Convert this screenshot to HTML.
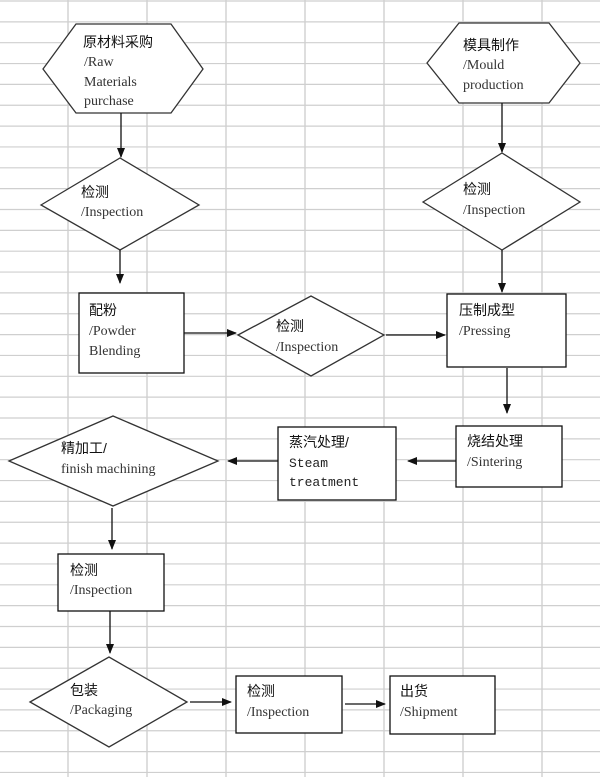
<!DOCTYPE html>
<html><head><meta charset="utf-8"><style>
html,body{margin:0;padding:0;background:#fff}
svg{display:block}
text{font-family:"Liberation Serif","Noto Sans CJK SC",serif;font-size:14px;fill:#222}
.cn{font-family:"Liberation Sans","Noto Sans CJK SC",sans-serif;font-size:14px;fill:#111}
.en{fill:#333}
.mono{font-family:"Liberation Mono","Noto Sans CJK SC",monospace;font-size:13px;fill:#222}
.s{fill:#fff;stroke:#333;stroke-width:1.3}
.r{fill:#fff;stroke:#111;stroke-width:1.3}
.a{stroke:#111;stroke-width:1.3;fill:none;marker-end:url(#ah)}
</style></head><body>
<svg width="600" height="777" viewBox="0 0 600 777" xmlns="http://www.w3.org/2000/svg">
<defs><marker id="ah" markerWidth="10" markerHeight="8" refX="9" refY="4" orient="auto" markerUnits="userSpaceOnUse"><path d="M0,0 L10,4 L0,8 z" fill="#111"/></marker></defs>
<g stroke="#c8c8c8" stroke-width="1.2">
<line x1="68" y1="0" x2="68" y2="777"/><line x1="147" y1="0" x2="147" y2="777"/><line x1="226" y1="0" x2="226" y2="777"/><line x1="305" y1="0" x2="305" y2="777"/><line x1="384" y1="0" x2="384" y2="777"/><line x1="463" y1="0" x2="463" y2="777"/><line x1="542" y1="0" x2="542" y2="777"/>
</g>
<g stroke="#cfcfcf" stroke-width="1.2" id="h"></g>
<script>
var g=document.getElementById('h');for(var i=0;i<38;i++){var y=1+i*20.85;var l=document.createElementNS('http://www.w3.org/2000/svg','line');l.setAttribute('x1',0);l.setAttribute('x2',600);l.setAttribute('y1',y);l.setAttribute('y2',y);g.appendChild(l);}
</script>

<!-- shapes -->
<polygon class="s" points="43,69 76,24 171,24 203,69 171,113 76,113"/>
<polygon class="s" points="427,63 459,23 549,23 580,63 549,103 459,103"/>
<polygon class="s" points="41,205 120,158 199,205 120,250"/>
<polygon class="s" points="423,202 502,153 580,202 502,250"/>
<rect class="r" x="79" y="293" width="105" height="80"/>
<polygon class="s" points="238,335 311,296 384,335 311,376"/>
<rect class="r" x="447" y="294" width="119" height="73"/>
<rect class="r" x="456" y="426" width="106" height="61"/>
<rect class="r" x="278" y="427" width="118" height="73"/>
<polygon class="s" points="9,461 113,416 218,461 113,506"/>
<rect class="r" x="58" y="554" width="106" height="57"/>
<polygon class="s" points="30,702 109,657 187,702 109,747"/>
<rect class="r" x="236" y="676" width="106" height="57"/>
<rect class="r" x="390" y="676" width="105" height="58"/>

<!-- arrows -->
<line class="a" x1="121" y1="113" x2="121" y2="157"/>
<line class="a" x1="120" y1="250" x2="120" y2="283"/>
<line class="a" x1="184" y1="333" x2="236" y2="333"/>
<line class="a" x1="386" y1="335" x2="445" y2="335"/>
<line class="a" x1="502" y1="103" x2="502" y2="152"/>
<line class="a" x1="502" y1="250" x2="502" y2="292"/>
<line class="a" x1="507" y1="368" x2="507" y2="413"/>
<line class="a" x1="456" y1="461" x2="408" y2="461"/>
<line class="a" x1="278" y1="461" x2="228" y2="461"/>
<line class="a" x1="112" y1="508" x2="112" y2="549"/>
<line class="a" x1="110" y1="611" x2="110" y2="653"/>
<line class="a" x1="190" y1="702" x2="231" y2="702"/>
<line class="a" x1="345" y1="704" x2="385" y2="704"/>

<!-- text -->
<text class="cn" x="83" y="47">原材料采购</text>
<text class="en" x="84" y="66">/Raw</text>
<text class="en" x="84" y="86">Materials</text>
<text class="en" x="84" y="105">purchase</text>
<text class="cn" x="463" y="50">模具制作</text>
<text class="en" x="463" y="69">/Mould</text>
<text class="en" x="463" y="89">production</text>
<text class="cn" x="81" y="197">检测</text>
<text class="en" x="81" y="216">/Inspection</text>
<text class="cn" x="463" y="194">检测</text>
<text class="en" x="463" y="214">/Inspection</text>
<text class="cn" x="89" y="315">配粉</text>
<text class="en" x="89" y="335">/Powder</text>
<text class="en" x="89" y="355">Blending</text>
<text class="cn" x="276" y="331">检测</text>
<text class="en" x="276" y="351">/Inspection</text>
<text class="cn" x="459" y="315">压制成型</text>
<text class="en" x="459" y="335">/Pressing</text>
<text class="cn" x="467" y="446">烧结处理</text>
<text class="en" x="467" y="466">/Sintering</text>
<text class="cn" x="289" y="447">蒸汽处理/</text>
<text class="mono" x="289" y="467">Steam</text>
<text class="mono" x="289" y="486">treatment</text>
<text class="cn" x="61" y="453">精加工/</text>
<text class="en" x="61" y="473">finish machining</text>
<text class="cn" x="70" y="575">检测</text>
<text class="en" x="70" y="594">/Inspection</text>
<text class="cn" x="70" y="695">包装</text>
<text class="en" x="70" y="714">/Packaging</text>
<text class="cn" x="247" y="696">检测</text>
<text class="en" x="247" y="716">/Inspection</text>
<text class="cn" x="400" y="696">出货</text>
<text class="en" x="400" y="716">/Shipment</text>
</svg>
</body></html>
